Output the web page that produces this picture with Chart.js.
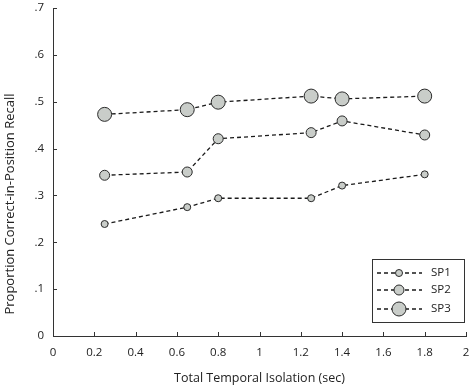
<!DOCTYPE html>
<html><head><meta charset="utf-8">
<script src="https://cdn.jsdelivr.net/npm/chart.js@4/dist/chart.umd.min.js"></script>
<style>html,body{margin:0;padding:0;background:#fff}#wrap{width:474px;height:386px}</style>
</head><body><div id="wrap"><canvas id="c" width="474" height="386"></canvas></div>
<script>
const isolation = [0.25, 0.65, 0.8, 1.25, 1.4, 1.8];
const sp1 = [0.239, 0.275, 0.294, 0.294, 0.321, 0.345];
const sp2 = [0.343, 0.350, 0.421, 0.434, 0.459, 0.429];
const sp3 = [0.473, 0.483, 0.499, 0.512, 0.506, 0.512];
const seriesNames = ['SP1', 'SP2', 'SP3'];
const xTitle = 'Total Temporal Isolation (sec)';
const yTitle = 'Proportion Correct-in-Position Recall';

const FONT = '"Open Sans", "Noto Sans", sans-serif';
const radii = [3.5, 5, 7];
const toPts = arr => isolation.map((x, i) => ({x, y: arr[i]}));
const datasets = [sp1, sp2, sp3].map((arr, i) => ({
  label: seriesNames[i],
  data: toPts(arr),
  borderColor: '#1a1a1a',
  borderWidth: 1.3,
  borderDash: [4, 3],
  backgroundColor: '#c9cdc9',
  pointBackgroundColor: '#c9cdc9',
  pointBorderColor: '#2a2a2a',
  pointBorderWidth: 1,
  pointRadius: radii[i],
  pointHoverRadius: radii[i],
  tension: 0,
  fill: false
}));

const inwardTicks = {
  id: 'inwardTicks',
  afterDraw(chart) {
    const ctx = chart.ctx, xs = chart.scales.x, ys = chart.scales.y;
    const ca = chart.chartArea;
    ctx.save();
    ctx.strokeStyle = '#333';
    ctx.lineWidth = 1;
    ctx.beginPath();
    xs.ticks.forEach(t => {
      const px = Math.round(xs.getPixelForValue(t.value)) + 0.5;
      ctx.moveTo(px, ca.bottom); ctx.lineTo(px, ca.bottom - 4);
    });
    ys.ticks.forEach(t => {
      const py = Math.round(ys.getPixelForValue(t.value)) + 0.5;
      ctx.moveTo(ca.left, py); ctx.lineTo(ca.left + 4, py);
    });
    ctx.stroke();
    // y-axis title
    ctx.fillStyle = '#222';
    ctx.font = '13px ' + FONT;
    ctx.textAlign = 'center';
    ctx.textBaseline = 'middle';
    ctx.translate(10, 204);
    ctx.rotate(-Math.PI / 2);
    ctx.fillText(yTitle, 0, 0);
    ctx.restore();
  }
};

const boxLegend = {
  id: 'boxLegend',
  afterDraw(chart) {
    const ctx = chart.ctx;
    const L = 372, T = 259, W = 92, H = 63;
    const rows = [14, 31, 50];
    ctx.save();
    ctx.fillStyle = '#fff';
    ctx.fillRect(L, T, W, H);
    ctx.strokeStyle = '#333';
    ctx.lineWidth = 1;
    ctx.strokeRect(L + 0.5, T + 0.5, W, H);
    chart.data.datasets.forEach((ds, i) => {
      const y = T + rows[i];
      ctx.strokeStyle = ds.borderColor;
      ctx.lineWidth = ds.borderWidth;
      ctx.setLineDash(ds.borderDash);
      ctx.beginPath(); ctx.moveTo(L + 5, y); ctx.lineTo(L + 50, y); ctx.stroke();
      ctx.setLineDash([]);
      ctx.beginPath(); ctx.arc(L + 27, y, ds.pointRadius, 0, Math.PI * 2);
      ctx.fillStyle = ds.pointBackgroundColor; ctx.fill();
      ctx.lineWidth = 1; ctx.strokeStyle = ds.pointBorderColor; ctx.stroke();
      ctx.fillStyle = '#222';
      ctx.font = '11.5px ' + FONT;
      ctx.textBaseline = 'middle';
      ctx.textAlign = 'left';
      ctx.fillText(ds.label, L + 59, y);
    });
    ctx.restore();
  }
};

new Chart(document.getElementById('c'), {
  type: 'line',
  data: { datasets },
  options: {
    responsive: false,
    animation: false,
    events: [],
    layout: { padding: { left: 0, right: 0, top: 5, bottom: 0 } },
    plugins: { legend: { display: false }, tooltip: { enabled: false } },
    scales: {
      x: {
        type: 'linear', min: 0, max: 2,
        grid: { display: false, drawTicks: false },
        border: { display: true, color: '#333', width: 1 },
        ticks: {
          stepSize: 0.2, padding: 10, color: '#222', maxRotation: 0,
          font: { family: FONT, size: 11.5 },
          callback: v => String(Math.round(v * 10) / 10)
        },
        title: { display: true, text: xTitle, color: '#222', font: { family: FONT, size: 12.5 }, padding: { top: 7, bottom: 0 } },
        afterFit: s => { s.height = 50; s.paddingLeft = 0; s.paddingRight = 0; }
      },
      y: {
        min: 0, max: 0.7,
        grid: { display: false, drawTicks: false },
        border: { display: true, color: '#333', width: 1 },
        ticks: {
          stepSize: 0.1, padding: 9, color: '#222',
          font: { family: FONT, size: 11.5 },
          callback: v => { const r = Math.round(v * 10); return r === 0 ? '0' : '.' + r; }
        },
        title: { display: false },
        afterFit: s => { s.width = 53; s.paddingTop = 0; s.paddingBottom = 0; }
      }
    }
  },
  plugins: [inwardTicks, boxLegend]
});
</script>
</body></html>
